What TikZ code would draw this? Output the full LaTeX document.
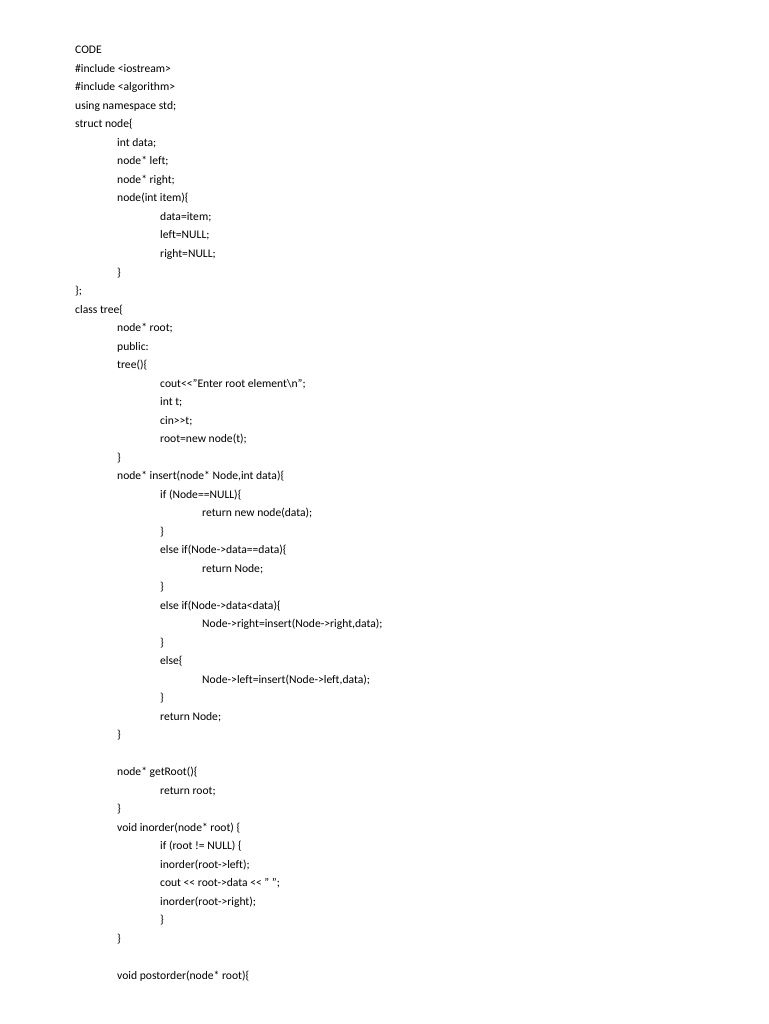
\documentclass[tikz,border=0pt]{standalone}
\usepackage{fontspec}
\setmainfont{Carlito}[Ligatures=NoCommon]
\begin{document}
\begin{tikzpicture}[x=1pt,y=-1pt,ln/.style={anchor=base west,inner sep=0pt,font=\fontsize{11.6}{12}\selectfont}]
\useasboundingbox[fill=white] (0,0) rectangle (768,1024);
\def\A{75}\def\B{117}\def\C{160}\def\D{202}
\newcommand\Ln[3]{\node[ln] (l#1) at (#2,{54+18.5*#1}) {#3};}
\Ln{0}{\A}{CODE}
\Ln{1}{\A}{\#include <iostream>}
\Ln{2}{\A}{\#include <algorithm>}
\Ln{3}{\A}{using namespace std;}
\Ln{4}{\A}{struct node\{}
\Ln{5}{\B}{int data;}
\Ln{6}{\B}{node* left;}
\Ln{7}{\B}{node* right;}
\Ln{8}{\B}{node(int item)\{}
\Ln{9}{\C}{data=item;}
\Ln{10}{\C}{left=NULL;}
\Ln{11}{\C}{right=NULL;}
\Ln{12}{\B}{\}}
\Ln{13}{\A}{\};}
\Ln{14}{\A}{class tree\{}
\Ln{15}{\B}{node* root;}
\Ln{16}{\B}{public:}
\Ln{17}{\B}{tree()\{}
\Ln{18}{\C}{cout<{}<"Enter root element\textbackslash n";}
\Ln{19}{\C}{int t;}
\Ln{20}{\C}{cin>{}>t;}
\Ln{21}{\C}{root=new node(t);}
\Ln{22}{\B}{\}}
\Ln{23}{\B}{node* insert(node* Node,int data)\{}
\Ln{24}{\C}{if (Node==NULL)\{}
\Ln{25}{\D}{return new node(data);}
\Ln{26}{\C}{\}}
\Ln{27}{\C}{else if(Node->data==data)\{}
\Ln{28}{\D}{return Node;}
\Ln{29}{\C}{\}}
\Ln{30}{\C}{else if(Node->data<data)\{}
\Ln{31}{\D}{Node->right=insert(Node->right,data);}
\Ln{32}{\C}{\}}
\Ln{33}{\C}{else\{}
\Ln{34}{\D}{Node->left=insert(Node->left,data);}
\Ln{35}{\C}{\}}
\Ln{36}{\C}{return Node;}
\Ln{37}{\B}{\}}
\Ln{39}{\B}{node* getRoot()\{}
\Ln{40}{\C}{return root;}
\Ln{41}{\B}{\}}
\Ln{42}{\B}{void inorder(node* root) \{}
\Ln{43}{\C}{if (root != NULL) \{}
\Ln{44}{\C}{inorder(root->left);}
\Ln{45}{\C}{cout <{}< root->data <{}< " ";}
\Ln{46}{\C}{inorder(root->right);}
\Ln{47}{\C}{\}}
\Ln{48}{\B}{\}}
\Ln{50}{\B}{void postorder(node* root)\{}
\end{tikzpicture}
\end{document}
